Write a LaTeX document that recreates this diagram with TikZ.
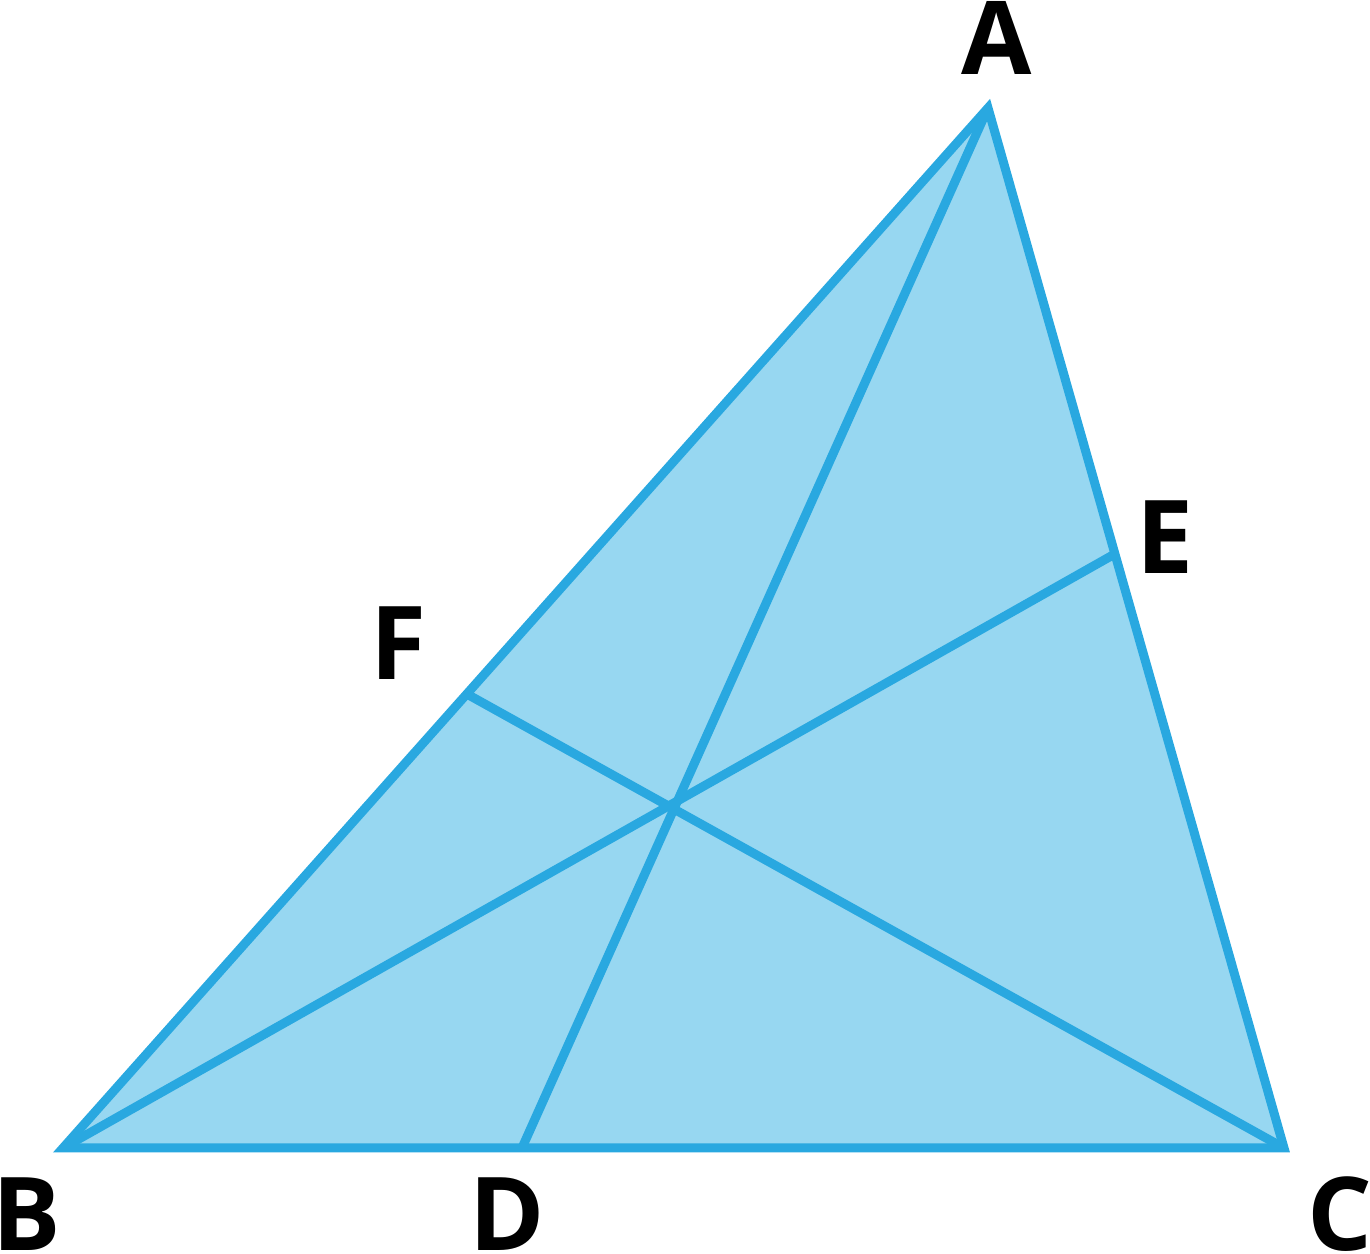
\documentclass[tikz,border=0pt]{standalone}
\usepackage{fontspec}
\setmainfont{Open Sans}
\usepackage{xcolor}
\usetikzlibrary{calc}
\definecolor{EdgeColour}{HTML}{29A8E0}
\definecolor{AreaColour}{HTML}{97D7F1}
\tikzstyle{TriangleArea}=[fill=AreaColour,draw=EdgeColour,line width=0.09cm,line join=miter]
\tikzstyle{CevianLine}=[draw=EdgeColour,line width=0.09cm]
\tikzstyle{VertexLabel}=[inner sep=0pt,font=\fontsize{29}{35}\selectfont\bfseries]
\begin{document}
\begin{tikzpicture}
  \useasboundingbox (0,0) rectangle (13.70,12.54);
  \coordinate (A) at (9.88,11.46);
  \coordinate (B) at (0.63,1.06);
  \coordinate (C) at (12.84,1.06);
  \coordinate (D) at (5.22,1.06);
  \coordinate (E) at (11.13,6.99);
  \coordinate (F) at (4.65,5.61);

  \filldraw[TriangleArea] (A) -- (B) -- (C) -- cycle;
  \draw[CevianLine] (A) -- (D);
  \draw[CevianLine] (B) -- (E);
  \draw[CevianLine] (C) -- (F);

  \node[VertexLabel] (LabelA) at (9.97,12.16) {A};
  \node[VertexLabel] (LabelB) at (0.27,0.40) {B};
  \node[VertexLabel] (LabelC) at (13.40,0.40) {C};
  \node[VertexLabel] (LabelD) at (5.07,0.40) {D};
  \node[VertexLabel] (LabelE) at (11.65,7.17) {E};
  \node[VertexLabel] (LabelF) at (3.98,6.11) {F};
\end{tikzpicture}
\end{document}
